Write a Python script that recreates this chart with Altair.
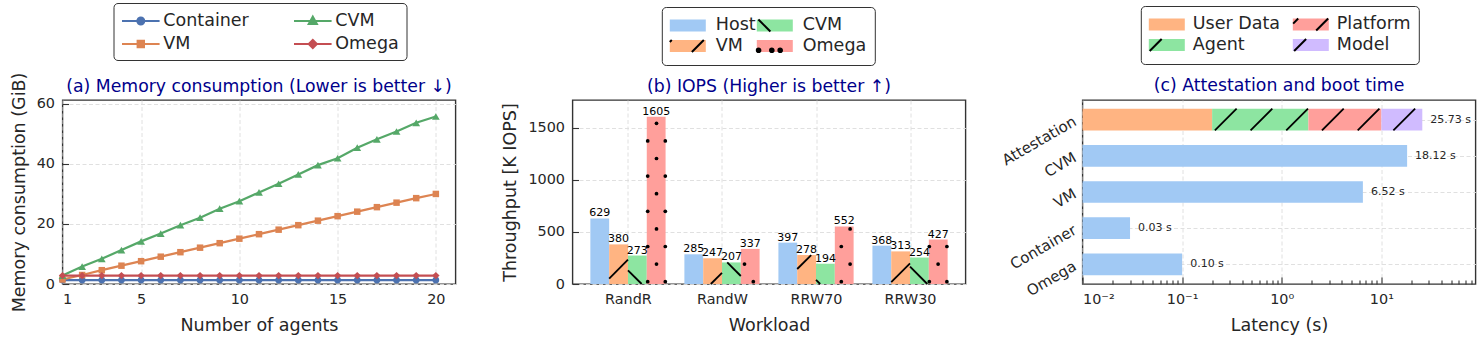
import json
import altair as alt
import numpy as np
import pandas as pd

# ---------------- data ----------------
agents = [1, 2, 3, 4, 5, 6, 7, 8, 9, 10, 11, 12, 13, 14, 15, 16, 17, 18, 19, 20]
mem_container = [1.3, 1.3, 1.3, 1.3, 1.3, 1.3, 1.3, 1.3, 1.3, 1.3,
                 1.3, 1.3, 1.3, 1.3, 1.3, 1.3, 1.3, 1.3, 1.3, 1.3]
mem_vm = [1.5, 3.0, 4.6, 6.1, 7.6, 9.1, 10.6, 12.1, 13.6, 15.1,
          16.6, 18.1, 19.6, 21.1, 22.6, 24.1, 25.6, 27.1, 28.6, 30.0]
mem_cvm = [2.8, 5.8, 8.4, 11.3, 14.2, 16.8, 19.6, 22.1, 25.1, 27.6,
           30.5, 33.4, 36.5, 39.6, 41.9, 45.4, 48.2, 50.8, 53.7, 55.8]
mem_omega = [2.8, 2.8, 2.8, 2.8, 2.8, 2.8, 2.8, 2.8, 2.8, 2.8,
             2.8, 2.8, 2.8, 2.8, 2.8, 2.8, 2.8, 2.8, 2.8, 2.8]

workloads = ["RandR", "RandW", "RRW70", "RRW30"]
iops_host = [629, 285, 397, 368]
iops_vm = [380, 247, 278, 313]
iops_cvm = [273, 207, 194, 254]
iops_omega = [1605, 337, 552, 427]

boot_envs = ["CVM", "VM", "Container", "Omega"]
boot_times = [18.12, 6.52, 0.03, 0.10]
attest_parts = ["User Data", "Agent", "Platform", "Model"]
attest_times = [0.20, 1.65, 8.15, 15.73]

# ---------------- style ----------------
FONT = "DejaVu Sans"
TEXT = "#262626"
TITLE_COLOR = "#00008b"
W, H = 393, 184
HATCH_P = 35.7
DOT_STEP = 17.6
LEG_FONT = 17.5
STRIP = "replace(datum.label, '~', '')"


def circ(cx, cy, r):
    return f"M{cx - r},{cy}A{r},{r},0,1,0,{cx + r},{cy}A{r},{r},0,1,0,{cx - r},{cy}Z"


def slash_segments(X0, X1, T, B, phase):  # lines X + Yd = c
    segs = []
    c = phase + np.ceil((X0 + T - phase) / HATCH_P) * HATCH_P
    while c <= X1 + B:
        xa, xb = max(X0, c - B), min(X1, c - T)
        if xb - xa > 0.3:
            segs.append((xa, c - xa, xb, c - xb))
        c += HATCH_P
    return segs


def backslash_segments(X0, X1, T, B, phase):  # lines X - Yd = c
    segs = []
    c = phase + np.ceil((X0 - B - phase) / HATCH_P) * HATCH_P
    while c <= X1 - T:
        xa, xb = max(X0, c + T), min(X1, c + B)
        if xb - xa > 0.3:
            segs.append((xa, xa - c, xb, xb - c))
        c += HATCH_P
    return segs


def dot_points(X0, X1, T, B, xref, yref):
    pts = []
    j = int(np.floor((T - yref) / DOT_STEP))
    while yref + j * DOT_STEP <= B:
        yd = yref + j * DOT_STEP
        if T + 1.5 <= yd <= B - 0.5:
            off = 0.0 if j % 2 == 0 else DOT_STEP / 2
            i = int(np.floor((X0 - 1 - xref - off) / DOT_STEP))
            while xref + off + i * DOT_STEP <= X1 + 1:
                xd = xref + off + i * DOT_STEP
                if xd >= X0 - 1:
                    pts.append((xd, yd))
                i += 1
        j += 1
    return pts


def legend(**kw):
    base = dict(orient="none", columns=2, title=None,
                labelFont=FONT, labelFontSize=LEG_FONT, labelColor=TEXT,
                labelLimit=400, symbolOpacity=1)
    base.update(kw)
    return alt.Legend(**base)


def title(text, dy):
    return alt.TitleParams(text=text, font=FONT, fontSize=17.3, fontWeight="normal",
                           color=TITLE_COLOR, anchor="middle", frame="group",
                           baseline="alphabetic", offset=0, dy=dy)


# ======================= panel (a) =======================
order_a = ["Container", "VM", "CVM", "Omega"]
color_of_a = {"Container": "#4c72b0", "VM": "#dd8452", "CVM": "#55a868", "Omega": "#c44e52"}
vals_a = {"Container": mem_container, "VM": mem_vm, "CVM": mem_cvm, "Omega": mem_omega}
df_a = pd.DataFrame([{"agents": n, "series": s, "value": v}
                     for s in order_a for n, v in zip(agents, vals_a[s])])
cols_a = [color_of_a[s] for s in order_a]

x_a = alt.X("agents:Q", title="Number of agents",
            scale=alt.Scale(domain=[1, 21], nice=False, zero=False),
            axis=alt.Axis(values=[1, 5, 10, 15, 20], ticks=False))
y_a = alt.Y("value:Q", title="Memory consumption (GiB)",
            scale=alt.Scale(domain=[0, 61.3], nice=False),
            axis=alt.Axis(values=[0, 20, 40, 60], offset=-6, tickSize=6))
col_a = alt.Color("series:N", scale=alt.Scale(domain=order_a, range=cols_a), legend=None)
base_a = alt.Chart(df_a)
lines_a = base_a.mark_line(strokeWidth=2.2).encode(x=x_a, y=y_a, color=col_a)
marker_shape = {"Container": "circle", "VM": "square", "CVM": "triangle-up", "Omega": "diamond"}
marker_size = {"Container": 45, "VM": 42, "CVM": 60, "Omega": 55}
points_a = [
    base_a.transform_filter(alt.datum.series == s)
    .mark_point(filled=True, opacity=1, shape=marker_shape[s], size=marker_size[s])
    .encode(x=x_a, y=y_a, color=col_a)
    for s in order_a
]
leg_paths_a = {
    "Container": "M-2,0H2" + circ(0, 0, 0.36),
    "VM": "M-2,0H2M-0.33,-0.33H0.33V0.33H-0.33Z",
    "CVM": "M-2,0H2M0,-0.46L0.42,0.3L-0.42,0.3Z",
    "Omega": "M-2,0H2M0,-0.42L0.42,0L0,0.42L-0.42,0Z",
}
dom_a2 = [s + "~" for s in order_a]
leg_a = legend(legendX=51, legendY=-97, symbolSize=353, symbolStrokeWidth=2.2, symbolOffset=9.3,
               labelOffset=12, rowPadding=4, columnPadding=40, padding=7.5, strokeColor="#333333",
               cornerRadius=4, labelExpr=STRIP)
legend_layer_a = alt.Chart(pd.DataFrame({"lseries": dom_a2})).mark_point(
    filled=True, opacity=0, strokeWidth=2.2
).encode(
    x=alt.value(0), y=alt.value(0),
    fill=alt.Fill("lseries:N", scale=alt.Scale(domain=dom_a2, range=cols_a), legend=leg_a),
    stroke=alt.Stroke("lseries:N", scale=alt.Scale(domain=dom_a2, range=cols_a), legend=leg_a),
    shape=alt.Shape("lseries:N", scale=alt.Scale(domain=dom_a2, range=[leg_paths_a[s] for s in order_a]),
                    legend=leg_a),
)
panel_a = alt.layer(lines_a, *points_a, legend_layer_a).properties(
    width=W, height=H, title=title("(a) Memory consumption (Lower is better ↓)", 107))

# ======================= panel (b) =======================
series_b = ["Host", "VM", "CVM", "Omega"]
color_of_b = {"Host": "#a1c9f4", "VM": "#ffb482", "CVM": "#8de5a1", "Omega": "#ff9f9b"}
vals_b = {"Host": iops_host, "VM": iops_vm, "CVM": iops_cvm, "Omega": iops_omega}
XB = (-0.59, 3.59)
YB = (0, 1766)
kxb = W / (XB[1] - XB[0])
kyb = H / (YB[1] - YB[0])

rows_b, segs_b, dots_b = [], [], []
for g, w in enumerate(workloads):
    for k, s in enumerate(series_b):
        x0 = g - 0.4 + 0.2 * k
        v = vals_b[s][g]
        rows_b.append({"workload": w, "bseries": s, "x0": x0, "x1": x0 + 0.2, "xc": x0 + 0.1,
                       "iops": v, "base": 0})
        X0, X1 = (x0 - XB[0]) * kxb, (x0 + 0.2 - XB[0]) * kxb
        T, B = H - v * kyb, H
        if s == "VM":
            segs = slash_segments(X0, X1, T, B, 1.0)
        elif s == "CVM":
            segs = backslash_segments(X0, X1, T, B, 28.0)
        else:
            segs = []
        for (xa, ya, xb, yb) in segs:
            segs_b.append({"hx": xa / kxb + XB[0], "hy": (H - ya) / kyb,
                           "hx2": xb / kxb + XB[0], "hy2": (H - yb) / kyb})
        if s == "Omega":
            for (xd, yd) in dot_points(X0, X1, T, B, 84.0, 23.3):
                dots_b.append({"px": xd / kxb + XB[0], "py": (H - yd) / kyb})
df_b = pd.DataFrame(rows_b)

sx_b = alt.Scale(domain=list(XB), nice=False, zero=False)
sy_b = alt.Scale(domain=list(YB), nice=False)
ax_bx = alt.Axis(values=[0, 1, 2, 3], ticks=False, title="Workload",
                 labelExpr=json.dumps(workloads) + "[round(datum.value)]")
ax_by = alt.Axis(values=[0, 500, 1000, 1500], offset=-6, tickSize=6, format="d",
                 title="Throughput [K IOPS]")
leg_b_common = dict(legendX=89.3, legendY=-93, symbolSize=324, symbolStrokeWidth=2, symbolOffset=8,
                    labelOffset=18, rowPadding=-2, columnPadding=-3, padding=8)
leg_b1 = legend(symbolType="M-2,-0.667H2V0.667H-2Z", symbolStrokeColor="transparent",
                strokeColor="#333333", cornerRadius=4, **leg_b_common)
bars_b = alt.Chart(df_b).mark_bar().encode(
    x=alt.X("x0:Q", scale=sx_b, axis=ax_bx), x2="x1:Q",
    y=alt.Y("iops:Q", scale=sy_b, axis=ax_by), y2="base:Q",
    color=alt.Color("bseries:N", scale=alt.Scale(domain=series_b, range=[color_of_b[s] for s in series_b]),
                    legend=leg_b1),
)
hatch_b = alt.Chart(pd.DataFrame(segs_b)).mark_rule(color="black", strokeWidth=1.8).encode(
    x=alt.X("hx:Q", scale=sx_b, axis=ax_bx), x2="hx2:Q",
    y=alt.Y("hy:Q", scale=sy_b, axis=ax_by), y2="hy2:Q",
)
dots_layer_b = alt.Chart(pd.DataFrame(dots_b)).mark_circle(color="black", opacity=1, size=14).encode(
    x=alt.X("px:Q", scale=sx_b, axis=ax_bx), y=alt.Y("py:Q", scale=sy_b, axis=ax_by))
text_b = alt.Chart(df_b).mark_text(fontSize=11, color="black", baseline="alphabetic", dy=-2).encode(
    x=alt.X("xc:Q", scale=sx_b, axis=ax_bx), y=alt.Y("iops:Q", scale=sy_b, axis=ax_by),
    text=alt.Text("iops:Q", format="d"))

hatch_paths_b = {
    "Host": "M0,0",
    "VM": "M0.45,0.667L1.78,-0.667M-2,-0.45L-1.78,-0.667",
    "CVM": "M-1.82,-0.667L-0.49,0.667",
    "Omega": circ(-1.8, 0.47, 0.2) + circ(-0.33, 0.47, 0.2) + circ(0.6, 0.47, 0.2),
}
dom_b2 = [s + "~" for s in series_b]
leg_b2 = legend(labelOpacity=0, labelExpr=STRIP, strokeColor="transparent", **leg_b_common)
legend_layer_b = alt.Chart(pd.DataFrame({"bkey": dom_b2})).mark_point(
    filled=True, opacity=0, strokeWidth=2).encode(
    x=alt.value(0), y=alt.value(0),
    fill=alt.Fill("bkey:N", scale=alt.Scale(domain=dom_b2, range=["black"] * 4), legend=leg_b2),
    stroke=alt.Stroke("bkey:N", scale=alt.Scale(domain=dom_b2, range=["black"] * 4), legend=leg_b2),
    shape=alt.Shape("bkey:N", scale=alt.Scale(domain=dom_b2, range=[hatch_paths_b[s] for s in series_b]),
                    legend=leg_b2),
)
panel_b = alt.layer(bars_b, hatch_b, dots_layer_b, text_b, legend_layer_b).properties(
    width=W, height=H, title=title("(b) IOPS (Higher is better ↑)", 103))

# ======================= panel (c) =======================
rows_c = ["Attestation"] + boot_envs
color_of_c = {"User Data": "#ffb482", "Agent": "#8de5a1", "Platform": "#ff9f9b", "Model": "#d0bbff"}
BOOT_COLOR = "#a1c9f4"
XC = (0.01, 88.0)
YC = (-0.54, 4.54)
LOG_FLOOR = XC[0]
kxc = W / (np.log10(XC[1]) - np.log10(XC[0]))
kyc = H / (YC[1] - YC[0])

ends = np.cumsum(attest_times)
starts = np.concatenate([[LOG_FLOOR], ends[:-1]])
df_att = pd.DataFrame({"part": attest_parts, "x0": starts, "x1": ends,
                       "y0": [-0.3] * 4, "y1": [0.3] * 4})
segs_c = []
for p, s0, e0 in zip(attest_parts, starts, ends):
    if p == "User Data":
        continue
    X0 = (np.log10(s0) - np.log10(XC[0])) * kxc
    X1 = (np.log10(e0) - np.log10(XC[0])) * kxc
    T = (-0.3 - YC[0]) * kyc
    B = (0.3 - YC[0]) * kyc
    for (xa, ya, xb, yb) in slash_segments(X0, X1, T, B, 20.0):
        segs_c.append({"hx": 10 ** (xa / kxc + np.log10(XC[0])), "hy": ya / kyc + YC[0],
                       "hx2": 10 ** (xb / kxc + np.log10(XC[0])), "hy2": yb / kyc + YC[0]})

df_boot = pd.DataFrame({"env": boot_envs, "x0": [LOG_FLOOR] * 4, "x1": boot_times,
                        "row": [1, 2, 3, 4]})
df_boot["y0"] = df_boot["row"] - 0.3
df_boot["y1"] = df_boot["row"] + 0.3
df_lab = pd.DataFrame({"end": [float(ends[-1])] + boot_times, "row": [0, 1, 2, 3, 4]})
df_lab["label"] = [f"{v:.2f} s" for v in df_lab["end"]]

sx_c = alt.Scale(type="log", domain=list(XC), nice=False)
sy_c = alt.Scale(domain=list(YC), reverse=True, nice=False, zero=False)
minor_ticks = [m * 10.0 ** e for e in (-2, -1, 0, 1) for m in range(2, 10) if m * 10.0 ** e <= XC[1]]
leg_c_common = dict(legendX=58.3, legendY=-94, symbolSize=324, symbolStrokeWidth=2, symbolOffset=8,
                    labelOffset=16, rowPadding=-1.5, columnPadding=8, padding=8)
leg_c1 = legend(symbolType="M-2,-0.667H2V0.667H-2Z", symbolStrokeColor="transparent",
                strokeColor="#333333", cornerRadius=4, **leg_c_common)
ax_cy = alt.Axis(values=[0, 1, 2, 3, 4], labelExpr=json.dumps(rows_c) + "[round(datum.value)]",
                 labelAngle=-30, labelAlign="right", labelBaseline="middle", labelOverlap=False,
                 offset=-6, tickSize=6, labelFontSize=15, title=None)
att_bars = alt.Chart(df_att).mark_bar().encode(
    x=alt.X("x0:Q", scale=sx_c, title="Latency (s)",
            axis=alt.Axis(values=[0.01, 0.1, 1, 10], offset=-7, tickSize=7, orient="bottom",
                          labelExpr='["10⁻²","10⁻¹","10⁰","10¹"][round(log(datum.value)/LN10)+2]')),
    x2="x1:Q",
    y=alt.Y("y0:Q", scale=sy_c, axis=ax_cy),
    y2="y1:Q",
    color=alt.Color("part:N", scale=alt.Scale(domain=attest_parts,
                                              range=[color_of_c[s] for s in attest_parts]),
                    legend=leg_c1),
)
boot_bars = alt.Chart(df_boot).mark_bar(color=BOOT_COLOR).encode(
    x=alt.X("x0:Q", scale=sx_c,
            axis=alt.Axis(values=minor_ticks, labels=False, grid=False, title=None, orient="bottom",
                          offset=-4, tickSize=4)),
    x2="x1:Q",
    y=alt.Y("y0:Q", scale=sy_c, axis=ax_cy), y2="y1:Q",
)
hatch_c = alt.Chart(pd.DataFrame(segs_c)).mark_rule(color="black", strokeWidth=1.8).encode(
    x=alt.X("hx:Q", scale=sx_c, axis=None), x2="hx2:Q",
    y=alt.Y("hy:Q", scale=sy_c, axis=ax_cy), y2="hy2:Q",
)
text_c = alt.Chart(df_lab).mark_text(fontSize=11, color=TEXT, align="left", baseline="middle", dx=8).encode(
    x=alt.X("end:Q", scale=sx_c, axis=None), y=alt.Y("row:Q", scale=sy_c, axis=ax_cy), text="label:N")

hatch_paths_c = {
    "User Data": "M0,0",
    "Agent": "M-1.9,0.667L-0.57,-0.667",
    "Platform": "M-1.96,-0.1L-1.4,-0.667M0.6,0.667L1.93,-0.667",
    "Model": "M-1.85,0.667L-0.52,-0.667",
}
dom_c2 = [s + "~" for s in attest_parts]
leg_c2 = legend(labelOpacity=0, labelExpr=STRIP, strokeColor="transparent", **leg_c_common)
legend_layer_c = alt.Chart(pd.DataFrame({"ckey": dom_c2})).mark_point(
    filled=True, opacity=0, strokeWidth=2).encode(
    x=alt.value(0), y=alt.value(0),
    fill=alt.Fill("ckey:N", scale=alt.Scale(domain=dom_c2, range=["black"] * 4), legend=leg_c2),
    stroke=alt.Stroke("ckey:N", scale=alt.Scale(domain=dom_c2, range=["black"] * 4), legend=leg_c2),
    shape=alt.Shape("ckey:N", scale=alt.Scale(domain=dom_c2, range=[hatch_paths_c[s] for s in attest_parts]),
                    legend=leg_c2),
)
panel_c = alt.layer(att_bars, boot_bars, hatch_c, text_c, legend_layer_c).resolve_axis(
    x="independent").properties(width=W, height=H, title=title("(c) Attestation and boot time", 103))

# ======================= combine =======================
chart = alt.hconcat(panel_a, panel_b, panel_c, spacing=117, bounds="flush").resolve_scale(
    color="independent", fill="independent", stroke="independent", shape="independent",
    x="independent", y="independent"
).resolve_legend(
    color="independent", fill="independent", stroke="independent", shape="independent"
).properties(padding={"left": 8.5, "top": 1, "right": 2, "bottom": 2})
chart = chart.configure(font=FONT).configure_view(
    stroke="#333333", strokeWidth=1.4
).configure_axis(
    labelFont=FONT, labelFontSize=14.4, labelColor=TEXT,
    titleFont=FONT, titleFontSize=17.5, titleColor=TEXT, titleFontWeight="normal",
    domain=False, grid=True, gridColor="#dcdcdc", gridDash=[4, 2.5], gridWidth=0.9,
    tickColor="#333333", tickWidth=1.1, labelPadding=8,
).configure_axisX(titlePadding=11).configure_axisY(titlePadding=8)

chart.save("out.html", embed_options={"renderer": "svg", "actions": False})
